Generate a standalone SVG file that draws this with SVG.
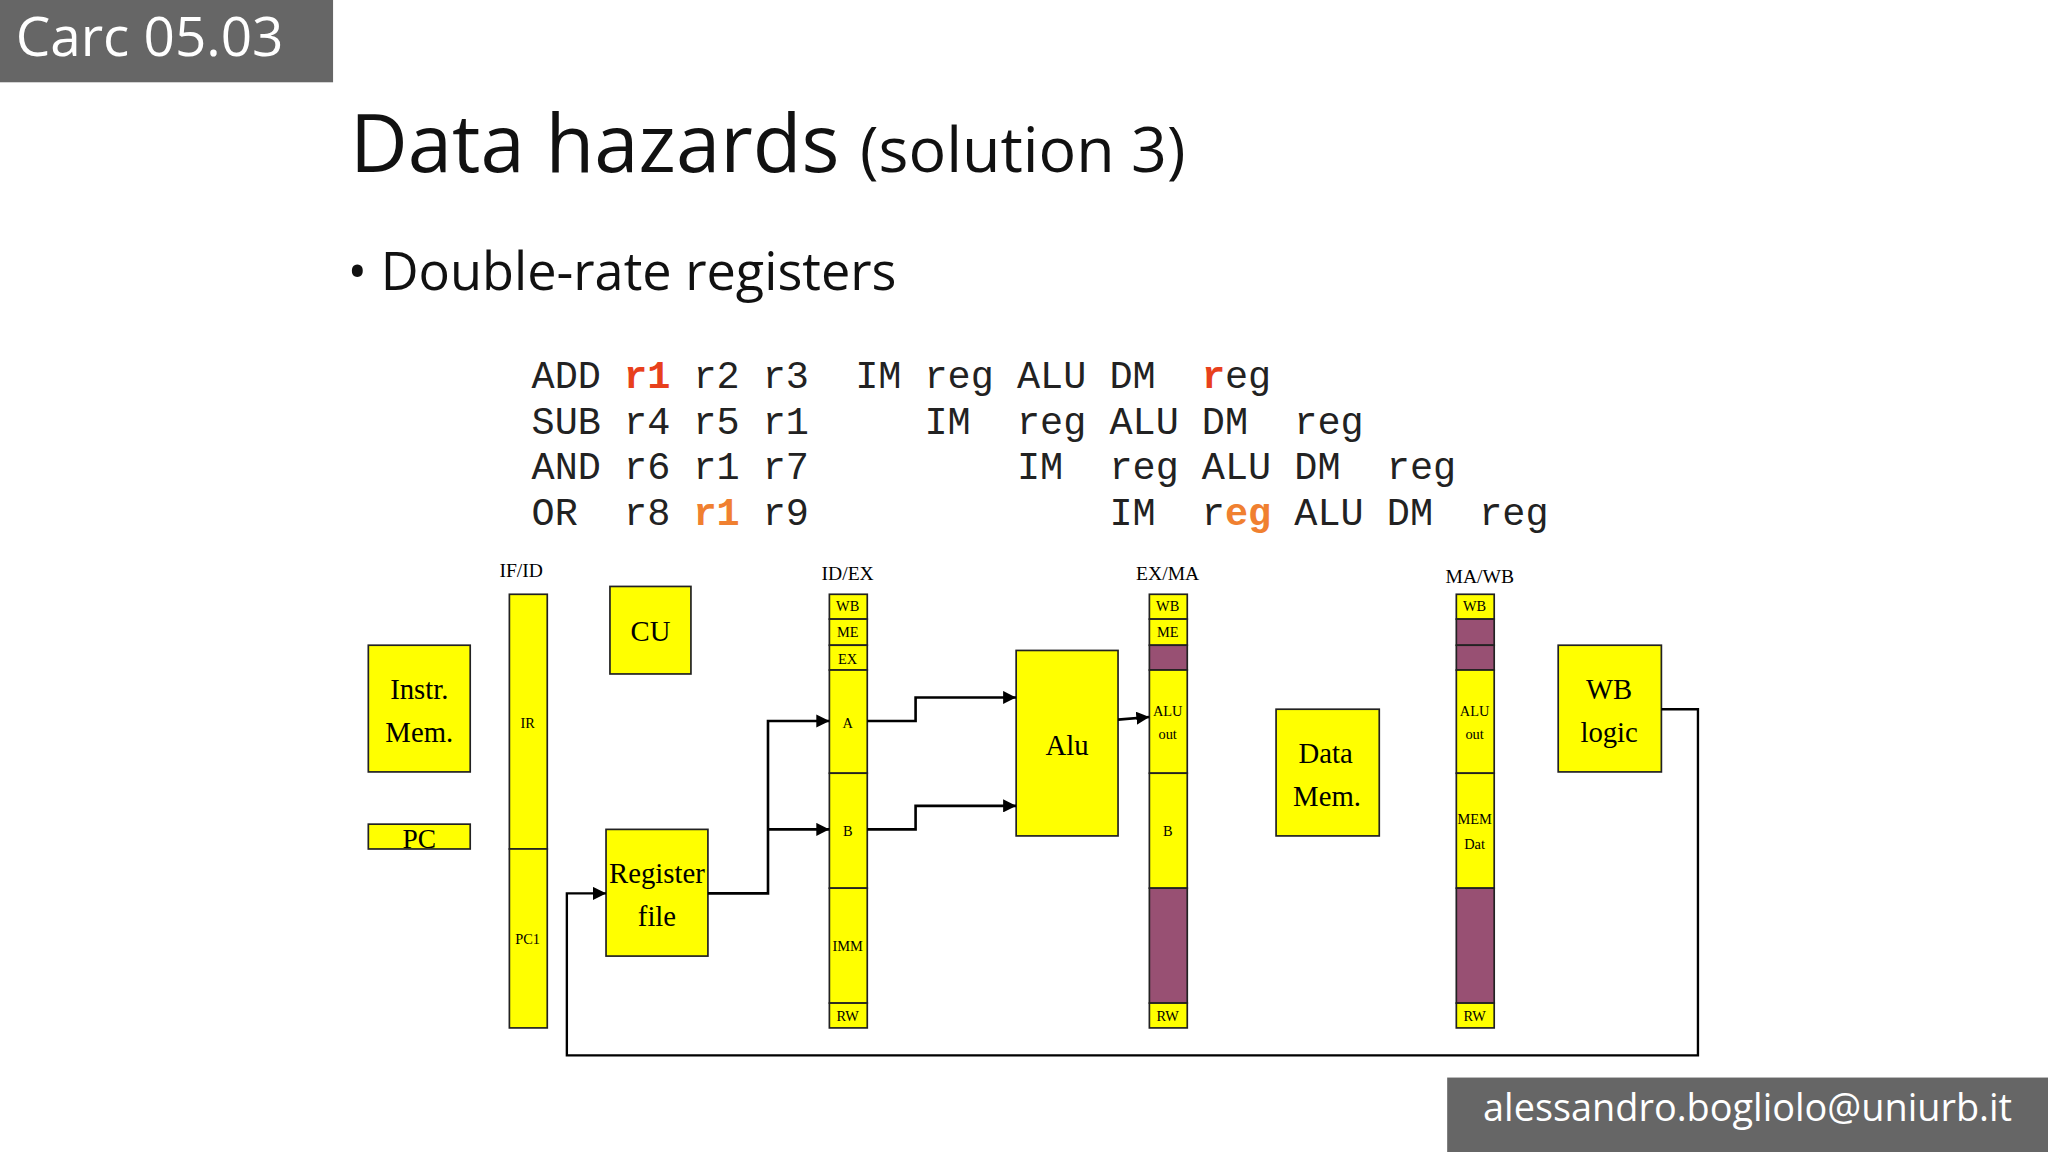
<svg xmlns="http://www.w3.org/2000/svg" width="2048" height="1152" viewBox="0 0 2048 1152">
<style>
.y{fill:#ffff00;stroke:#222;stroke-width:1.3}
.p{fill:#985073;stroke:#222;stroke-width:1.3}
.t{font-family:"Liberation Serif",serif;fill:#000;text-anchor:middle}
.s{font-size:11px}
.m{font-size:22px}
.l{font-size:15px}
.c{fill:none;stroke:#000;stroke-width:2}
.code{font-family:"Liberation Mono",monospace;font-size:29.5px;fill:#222;white-space:pre}
</style>
<defs><marker id="ah" viewBox="0 0 10 10" refX="10" refY="5" markerWidth="10" markerHeight="10" orient="auto" markerUnits="userSpaceOnUse"><path d="M0,0L10,5L0,10z" fill="#000"/></marker></defs>
<rect width="2048" height="1152" fill="#fff"/>
<g transform="scale(1.30612)">
<rect x="0" y="0" width="255" height="63" fill="#666"/>
<text x="12" y="43" font-family="Open Sans,sans-serif" font-size="42" fill="#fff">Carc 05.03</text>
<text x="268" y="132" font-family="Open Sans,sans-serif" font-size="61" fill="#111">Data hazards <tspan font-size="48">(solution 3)</tspan></text>
<text x="266" y="222" font-family="Open Sans,sans-serif" font-size="40" fill="#111">• Double-rate registers</text>
<rect x="1108" y="825" width="460" height="57" fill="#666"/>
<text x="1338" y="858" font-family="Open Sans,sans-serif" font-size="29" fill="#fff" text-anchor="middle">alessandro.bogliolo@uniurb.it</text>
<g class="code">
<text xml:space="preserve" x="407" y="297">ADD <tspan font-weight="bold" fill="#e8401c">r1</tspan> r2 r3  IM reg ALU DM  <tspan font-weight="bold" fill="#e8401c">r</tspan>eg</text>
<text xml:space="preserve" x="407" y="332">SUB r4 r5 r1     IM  reg ALU DM  reg</text>
<text xml:space="preserve" x="407" y="367">AND r6 r1 r7         IM  reg ALU DM  reg</text>
<text xml:space="preserve" x="407" y="402">OR  r8 <tspan font-weight="bold" fill="#f08030">r1</tspan> r9             IM  r<tspan font-weight="bold" fill="#f08030">eg</tspan> ALU DM  reg</text>
</g>
<g id="labels" class="t l"><text x="399" y="442">IF/ID</text><text x="649" y="444">ID/EX</text><text x="894" y="444">EX/MA</text><text x="1133" y="446">MA/WB</text></g>
<g id="imem"><rect class="y" x="282" y="494" width="78" height="97"/><text class="t m" x="321" y="535">Instr.</text><text class="t m" x="321" y="568">Mem.</text></g>
<g id="pc"><rect class="y" x="282" y="631" width="78" height="19"/><text class="t" font-size="21" x="321" y="649">PC</text></g>
<g id="ifid"><rect class="y" x="390" y="455" width="29" height="195"/><rect class="y" x="390" y="650" width="29" height="137"/><text class="t s" x="404" y="557">IR</text><text class="t s" x="404" y="723">PC1</text></g>
<g id="cu"><rect class="y" x="467" y="449" width="62" height="67"/><text class="t m" x="498" y="491">CU</text></g>
<g id="rf"><rect class="y" x="464" y="635" width="78" height="97"/><text class="t m" x="503" y="676">Register</text><text class="t m" x="503" y="709">file</text></g>
<g id="idex"><rect class="y" x="635" y="455" width="29" height="19"/><rect class="y" x="635" y="474" width="29" height="20"/><rect class="y" x="635" y="494" width="29" height="19"/><rect class="y" x="635" y="513" width="29" height="79"/><rect class="y" x="635" y="592" width="29" height="88"/><rect class="y" x="635" y="680" width="29" height="88"/><rect class="y" x="635" y="768" width="29" height="19"/>
<g class="t s"><text x="649" y="468">WB</text><text x="649" y="488">ME</text><text x="649" y="508">EX</text><text x="649" y="557">A</text><text x="649" y="640">B</text><text x="649" y="728">IMM</text><text x="649" y="782">RW</text></g></g>
<g id="alu"><rect class="y" x="778" y="498" width="78" height="142"/><text class="t m" x="817" y="578">Alu</text></g>
<g id="exma"><rect class="y" x="880" y="455" width="29" height="19"/><rect class="y" x="880" y="474" width="29" height="20"/><rect class="p" x="880" y="494" width="29" height="19"/><rect class="y" x="880" y="513" width="29" height="79"/><rect class="y" x="880" y="592" width="29" height="88"/><rect class="p" x="880" y="680" width="29" height="88"/><rect class="y" x="880" y="768" width="29" height="19"/>
<g class="t s"><text x="894" y="548">ALU</text><text x="894" y="468">WB</text><text x="894" y="488">ME</text><text x="894" y="566">out</text><text x="894" y="640">B</text><text x="894" y="782">RW</text></g></g>
<g id="dmem"><rect class="y" x="977" y="543" width="79" height="97"/><text class="t m" x="1015" y="584">Data</text><text class="t m" x="1016" y="617">Mem.</text></g>
<g id="mawb"><rect class="y" x="1115" y="455" width="29" height="19"/><rect class="p" x="1115" y="474" width="29" height="20"/><rect class="p" x="1115" y="494" width="29" height="19"/><rect class="y" x="1115" y="513" width="29" height="79"/><rect class="y" x="1115" y="592" width="29" height="88"/><rect class="p" x="1115" y="680" width="29" height="88"/><rect class="y" x="1115" y="768" width="29" height="19"/>
<g class="t s"><text x="1129" y="468">WB</text><text x="1129" y="548">ALU</text><text x="1129" y="566">out</text><text x="1129" y="631">MEM</text><text x="1129" y="650">Dat</text><text x="1129" y="782">RW</text></g></g>
<g id="wbl"><rect class="y" x="1193" y="494" width="79" height="97"/><text class="t m" x="1232" y="535">WB</text><text class="t m" x="1232" y="568">logic</text></g>
<g id="connectors" class="c">
<path d="M1272,543H1300V808H434V684H464" marker-end="url(#ah)" stroke-width="1.8"/>
<path d="M542,684H588V552H635" marker-end="url(#ah)"/>
<path d="M588,635H635" marker-end="url(#ah)"/>
<path d="M664,552H701V534H778" marker-end="url(#ah)"/>
<path d="M664,635H701V617H778" marker-end="url(#ah)"/>
<path d="M856,551L880,549" marker-end="url(#ah)"/>
</g>
</g>
</svg>
